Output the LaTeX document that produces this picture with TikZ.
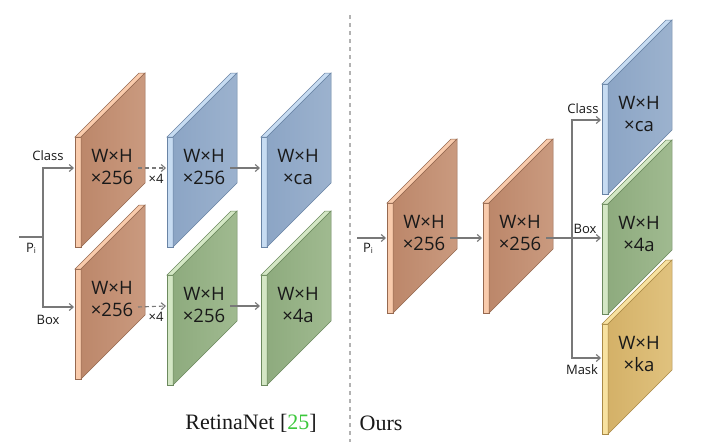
\documentclass[tikz,border=0pt]{standalone}
\usepackage{fontspec}
\setmainfont{Open Sans}
\newfontfamily\captionserif{Liberation Serif}
\usetikzlibrary{arrows.meta}
\definecolor{oF}{RGB}{249,203,172}
\definecolor{oE}{RGB}{150,105,80}
\definecolor{oL}{RGB}{188,135,106}
\definecolor{oR}{RGB}{202,154,127}
\definecolor{bF}{RGB}{199,220,242}
\definecolor{bE}{RGB}{105,132,165}
\definecolor{bL}{RGB}{140,165,197}
\definecolor{bR}{RGB}{156,178,206}
\definecolor{gF}{RGB}{212,231,197}
\definecolor{gE}{RGB}{108,138,94}
\definecolor{gL}{RGB}{142,171,126}
\definecolor{gR}{RGB}{160,186,144}
\definecolor{yF}{RGB}{248,226,160}
\definecolor{yE}{RGB}{170,138,70}
\definecolor{yL}{RGB}{212,177,104}
\definecolor{yR}{RGB}{224,194,126}
\definecolor{linegray}{RGB}{120,120,120}
\definecolor{citegreen}{RGB}{60,200,60}
\definecolor{txt}{RGB}{25,25,25}
\newcommand\mkslab[6]{%
  \filldraw[fill=#4F, draw=#4E, line width=0.5pt] (#2,#3) rectangle ++(6,110);
  \filldraw[fill=#4F, draw=#4E, line width=0.5pt] (#2,#3) -- ++(64,-64) -- ++(6,0) -- (#2+6,#3) -- cycle;
  \shadedraw[left color=#4L, right color=#4R, draw=#4E, line width=0.5pt] (#2+6,#3) -- ++(64,-64) -- ++(0,110) -- ++(-64,64) -- cycle;
  \node[slabtext] (#1) at (#2+37,#3+30) {#5};
  \coordinate (#1-w) at (#2-1,#6);
  \coordinate (#1-e) at (#2+63,#6);
}
\begin{document}
\begin{tikzpicture}[x=1pt,y=-1pt,
  slabtext/.style={font=\fontsize{18.5}{21.5}\selectfont, align=center, inner sep=0pt, text=txt},
  small/.style={font=\fontsize{13}{14}\selectfont, inner sep=0pt, text=txt},
  conn/.style={draw=linegray, line width=1.1pt, -{Straight Barb[length=4pt,width=7pt]}},
  plainconn/.style={draw=linegray, line width=1.1pt},
  dashconn/.style={conn, dash pattern=on 4pt off 3pt},
  divider/.style={draw=gray!60, line width=1.1pt, dash pattern=on 4pt off 4pt}]
\useasboundingbox (0,0) rectangle (720,442);
\fill[white] (0,0) rectangle (720,442);

% slabs
\mkslab{o1}{75}{137}{o}{W×H\\×256}{168}
\mkslab{o2}{75}{269}{o}{W×H\\×256}{307}
\mkslab{b1}{167}{137}{b}{W×H\\×256}{168}
\mkslab{b2}{261}{137}{b}{W×H\\×ca}{168}
\mkslab{g1}{167}{275}{g}{W×H\\×256}{306}
\mkslab{g2}{261}{275}{g}{W×H\\×4a}{306}
\mkslab{r1}{387}{203}{o}{W×H\\×256}{238}
\mkslab{r2}{483}{203}{o}{W×H\\×256}{238}
\mkslab{b3}{602}{84}{b}{W×H\\×ca}{120}
\mkslab{g3}{602}{204}{g}{W×H\\×4a}{238}
\mkslab{y3}{602}{324}{y}{W×H\\×ka}{358}

% left connectors
\coordinate (pinL) at (19,237);
\coordinate (jL) at (43,237);
\draw[plainconn] (pinL) -- (jL);
\draw[conn] (jL) |- (o1-w);
\draw[conn] (jL) |- (o2-w);
\draw[dashconn] (o1-e) -- (b1-w);
\draw[dashconn] (o2-e) -- (g1-w);
\draw[conn] (b1-e) -- (b2-w);
\draw[conn] (g1-e) -- (g2-w);

\node[small] (lclass) at (48,156) {Class};
\node[small] (lbox) at (48,320) {Box};
\node[small] (lpi) at (31,248) {P{\fontsize{8}{8}\selectfont\raisebox{-1pt}{i}}};
\node[small] (lx4a) at (156,179) {×4};
\node[small] (lx4b) at (156,317) {×4};

% divider
\coordinate (dtop) at (350,15);
\coordinate (dbot) at (350,442);
\draw[divider] (dtop) -- (dbot);

% right connectors
\coordinate (pinR) at (357,238);
\draw[conn] (pinR) -- (r1-w);
\draw[conn] (r1-e) -- (r2-w);
\coordinate (jR) at (572,238);
\draw[plainconn] (r2-e) -- (jR);
\draw[conn] (jR) -- (g3-w);
\draw[conn] (jR) |- (b3-w);
\draw[conn] (jR) |- (y3-w);

\node[small] (rpi) at (368,248) {P{\fontsize{8}{8}\selectfont\raisebox{-1pt}{i}}};
\node[small] (rclass) at (583,109) {Class};
\node[small] (rbox) at (585,229) {Box};
\node[small] (rmask) at (582,370) {Mask};

% captions
\node[font=\captionserif\fontsize{22}{26}\selectfont, text=txt, inner sep=0pt] (cap1) at (251,423) {RetinaNet [\textcolor{citegreen}{25}]};
\node[font=\captionserif\fontsize{22}{26}\selectfont, text=txt, inner sep=0pt] (cap2) at (381,423) {Ours};
\end{tikzpicture}
\end{document}
